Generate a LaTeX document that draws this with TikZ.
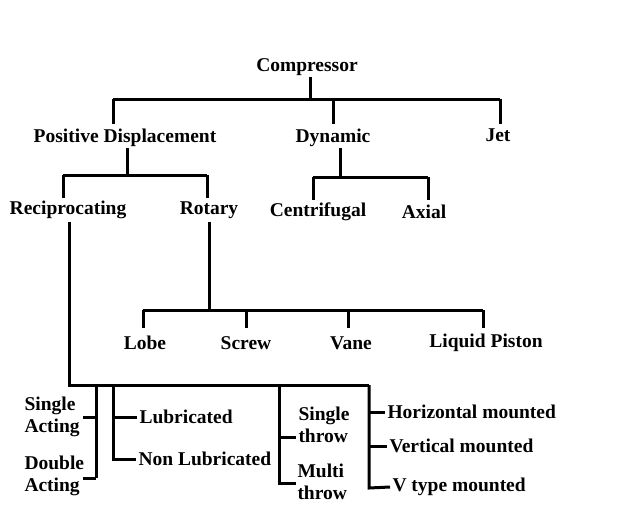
\documentclass[tikz,border=0pt]{standalone}
\usepackage{fontspec}
\setmainfont{Liberation Serif}
\usepackage{tikz}
\begin{document}
\begin{tikzpicture}[x=1pt,y=-1pt,line width=3pt,
  lbl/.style={font=\fontsize{19.5}{20}\selectfont\bfseries,inner sep=1pt},
  two/.style={lbl,align=left,anchor=west,font=\fontsize{19.5}{22}\selectfont\bfseries}]
\useasboundingbox (0,0) rectangle (640,511);
% top level
\node[lbl] (comp) at (307,67) {Compressor};
\node[lbl] (pd) at (125,138) {Positive Displacement};
\node[lbl] (dyn) at (333,138) {Dynamic};
\node[lbl] (jet) at (498,135) {Jet};
\draw (310,77) -- (310,99);
\draw (113,99) -- (500,99);
\foreach \x in {113,333,500}
	\draw (\x,99) -- (\x,124);
% positive displacement
\node[lbl] (rec) at (68,210) {Reciprocating};
\node[lbl] (rot) at (209,210) {Rotary};
\draw (127,148) -- (127,175);
\draw (63,175) -- (207,175);
\foreach \x in {63,207}
	\draw (\x,175) -- (\x,198);
% dynamic
\node[lbl] (cen) at (318,212) {Centrifugal};
\node[lbl] (axi) at (424,212) {Axial};
\draw (340,148) -- (340,177);
\draw (313,177) -- (428,177);
\foreach \x in {313,428}
	\draw (\x,177) -- (\x,200);
% rotary
\node[lbl] (lob) at (145,343) {Lobe};
\node[lbl] (scr) at (246,343) {Screw};
\node[lbl] (van) at (351,343) {Vane};
\node[lbl] (liq) at (486,343) {Liquid Piston};
\draw (209,222) -- (209,310);
\draw (143,310) -- (483,310);
\foreach \x in {143,246,348,483}
	\draw (\x,310) -- (\x,328);
% reciprocating
\draw (69,222) -- (69,385) -- (369,385);
\node[two] (sa) at (22,417) {Single\\Acting};
\node[two] (da) at (22,476) {Double\\Acting};
\draw (96,385) -- (96,478);
\draw (83,417) -- (96,417);
\draw (83,478) -- (96,478);
\node[lbl,anchor=west] (lub) at (137,417) {Lubricated};
\node[lbl,anchor=west] (nlub) at (136,459) {Non Lubricated};
\draw (113,385) -- (113,459) -- (nlub.west);
\draw (113,417) -- (lub.west);
\node[two] (st) at (296,425) {Single\\throw};
\node[two] (mt) at (295,482) {Multi\\throw};
\draw (279,385) -- (279,483) -- (296,483);
\draw (279,437) -- (296,437);
\node[lbl,anchor=west] (hor) at (385,412) {Horizontal mounted};
\node[lbl,anchor=west] (ver) at (387,446) {Vertical mounted};
\node[lbl,anchor=west] (vty) at (390,487) {V type mounted};
\draw (369,385) -- (369,488) -- (vty.west);
\draw (369,412) -- (hor.west);
\draw (369,446) -- (ver.west);
\end{tikzpicture}
\end{document}
